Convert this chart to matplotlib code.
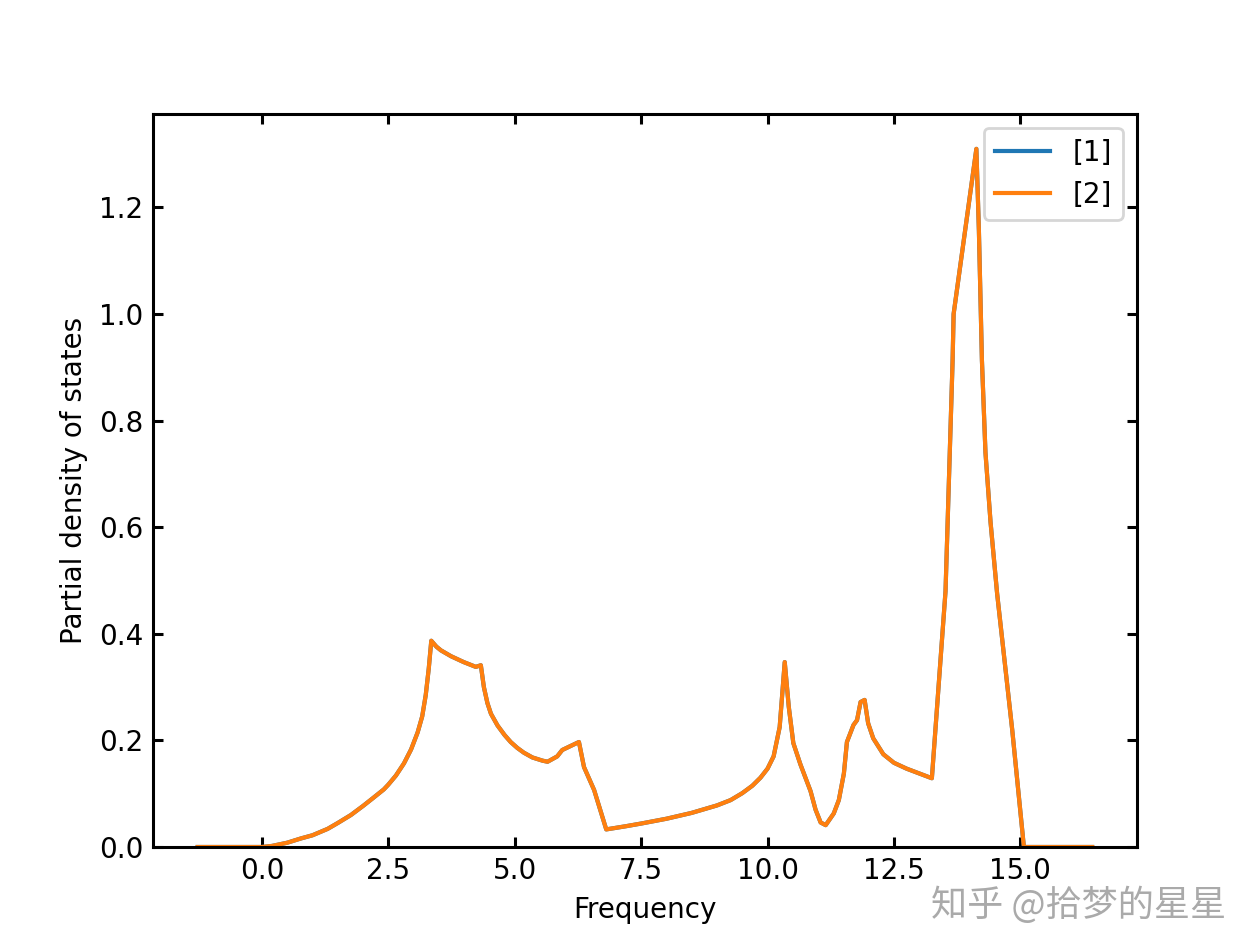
import matplotlib
matplotlib.use("Agg")
import matplotlib.pyplot as plt

# frequency grid and partial DOS
freq = [
    -1.27, 0.0, 0.2, 0.5, 0.77, 1.0, 1.3, 1.5, 1.76, 2.0, 2.2, 2.41, 2.5,
    2.65, 2.81, 2.95, 3.08, 3.17, 3.24, 3.3, 3.35, 3.45, 3.54, 3.74, 3.99,
    4.23, 4.33, 4.39, 4.46, 4.53, 4.66, 4.8, 4.92, 5.05, 5.18, 5.35, 5.55,
    5.65, 5.84, 5.94, 6.27, 6.37, 6.57, 6.81, 7.2, 7.5, 8.0, 8.5, 9.0, 9.27,
    9.5, 9.7, 9.86, 10.0, 10.12, 10.24, 10.34, 10.42, 10.51, 10.65, 10.85,
    10.95, 11.05, 11.15, 11.31, 11.41, 11.51, 11.57, 11.70, 11.77, 11.84,
    11.92, 11.99, 12.09, 12.29, 12.5, 12.75, 13.0, 13.25, 13.52, 13.66,
    13.68, 14.13, 14.18, 14.24, 14.31, 14.41, 14.54, 14.84, 15.07, 16.42,
]
pdos = [
    0.0, 0.0, 0.002, 0.008, 0.016, 0.022, 0.034, 0.045, 0.060, 0.077, 0.092,
    0.108, 0.117, 0.134, 0.157, 0.183, 0.215, 0.245, 0.285, 0.335, 0.387,
    0.376, 0.369, 0.358, 0.347, 0.338, 0.341, 0.30, 0.27, 0.25, 0.228,
    0.210, 0.197, 0.186, 0.177, 0.168, 0.162, 0.160, 0.170, 0.182, 0.197,
    0.150, 0.107, 0.033, 0.039, 0.044, 0.053, 0.064, 0.078, 0.088, 0.101,
    0.115, 0.130, 0.147, 0.170, 0.225, 0.347, 0.263, 0.195, 0.155, 0.105,
    0.070, 0.046, 0.041, 0.063, 0.088, 0.138, 0.197, 0.229, 0.238, 0.272,
    0.276, 0.232, 0.204, 0.174, 0.158, 0.147, 0.138, 0.129, 0.48, 0.913,
    1.0, 1.31, 1.157, 0.913, 0.740, 0.61, 0.476, 0.219, 0.0, 0.0,
]
labels = ["[1]", "[2]"]

fig = plt.figure(figsize=(1259 / 200, 952 / 200), dpi=200)
ax = fig.add_axes([0.1215, 0.1103, 0.7815, 0.7700])

# both atoms carry the same PDOS, so [2] hides [1]
ax.plot(freq, pdos, label=labels[0])
ax.plot(freq, pdos, label=labels[1])

ax.set_ylim(bottom=0)
ax.set_xlabel("Frequency")
ax.set_ylabel("Partial density of states")
for side in ax.spines.values():
    side.set_linewidth(1.1)
ax.tick_params(direction="in", top=True, right=True, width=1.1)
ax.legend(loc="upper right")

fig.text(0.974, 0.049, "知乎 @拾梦的星星", ha="right", va="center",
         fontsize=13, color="#aaaaaa",
         family=["Noto Sans CJK SC", "DejaVu Sans"])

fig.savefig("out.png", dpi=200)
